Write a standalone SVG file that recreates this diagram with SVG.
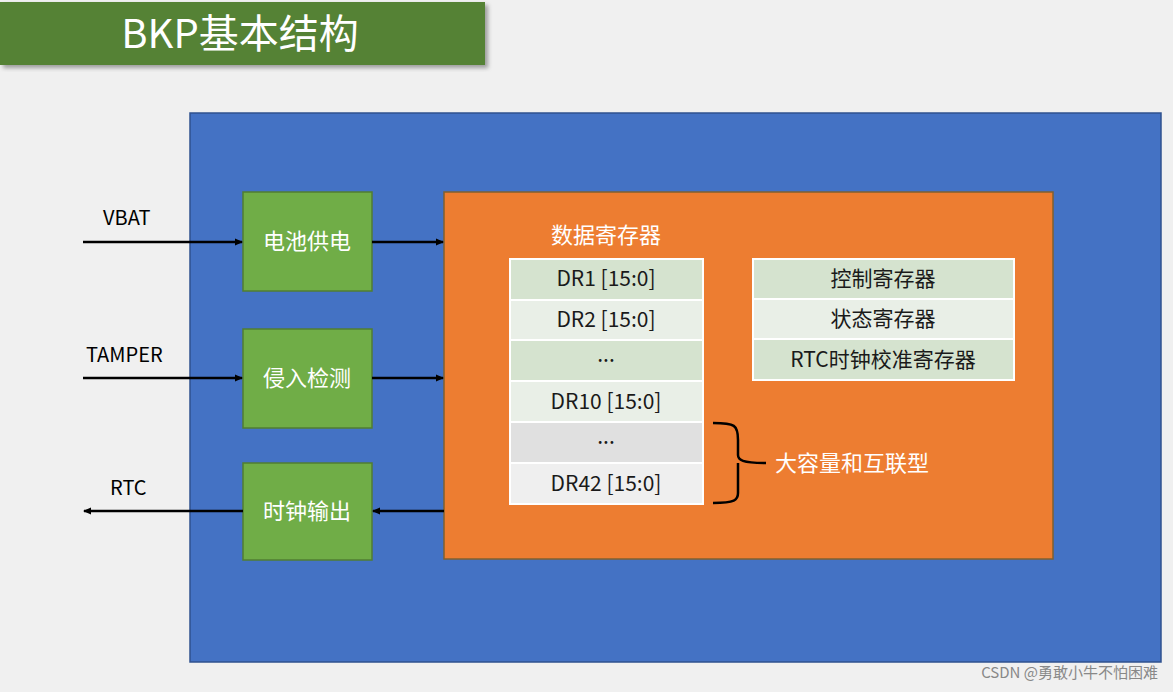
<svg xmlns="http://www.w3.org/2000/svg" width="1173" height="692" viewBox="0 0 1173 692">
<defs>
<marker id="ah" markerWidth="8" markerHeight="8" refX="7" refY="4" orient="auto" markerUnits="userSpaceOnUse"><path d="M0,0.5 L8,4 L0,7.5 Z" fill="#000"/></marker>
<filter id="sh"><feDropShadow dx="3" dy="3" stdDeviation="2" flood-color="#000" flood-opacity="0.35"/></filter>
</defs>
<style>
text{font-family:"Noto Sans CJK SC","Liberation Sans",sans-serif}
.w{fill:#fff;font-size:22px}
.k{fill:#1a1a1a;font-size:21px}
.g{fill:#70ad47;stroke:#507e32;stroke-width:1.5}
.c{stroke:#000;stroke-width:2.5;fill:none}
.cell{stroke:#fff;stroke-width:2}
</style>
<rect width="1173" height="692" fill="#f0f0f0"/>
<g id="title"><rect x="0" y="2" width="485" height="63" fill="#548235" filter="url(#sh)"/><text x="240" y="48" text-anchor="middle" fill="#fff" font-size="40">BKP基本结构</text></g>
<g id="outer"><rect x="190" y="113" width="971" height="549" fill="#4472c4" stroke="#2f528f" stroke-width="1.5"/></g>
<g id="bkp"><rect x="444" y="192" width="609" height="367" fill="#ed7d31" stroke="#7f6030" stroke-width="1.5"/><text x="606" y="243" text-anchor="middle" class="w">数据寄存器</text></g>
<g id="n1"><rect class="g" x="243" y="192" width="129" height="99"/><text x="307" y="249" text-anchor="middle" class="w">电池供电</text></g>
<g id="n2"><rect class="g" x="243" y="329" width="129" height="99"/><text x="307" y="386" text-anchor="middle" class="w">侵入检测</text></g>
<g id="n3"><rect class="g" x="243" y="463" width="129" height="97"/><text x="307" y="519" text-anchor="middle" class="w">时钟输出</text></g>
<g id="dr">
<rect class="cell" x="510" y="259" width="193" height="41" fill="#d5e3cf"/><text x="606" y="286" text-anchor="middle" class="k">DR1 [15:0]</text>
<rect class="cell" x="510" y="300" width="193" height="40" fill="#e9efe7"/><text x="606" y="327" text-anchor="middle" class="k">DR2 [15:0]</text>
<rect class="cell" x="510" y="340" width="193" height="41" fill="#d5e3cf"/><text x="606" y="362" text-anchor="middle" class="k">...</text>
<rect class="cell" x="510" y="381" width="193" height="41" fill="#e9efe7"/><text x="606" y="409" text-anchor="middle" class="k">DR10 [15:0]</text>
<rect class="cell" x="510" y="422" width="193" height="41" fill="#e0e0e0"/><text x="606" y="444" text-anchor="middle" class="k">...</text>
<rect class="cell" x="510" y="463" width="193" height="41" fill="#efefef"/><text x="606" y="491" text-anchor="middle" class="k">DR42 [15:0]</text>
</g>
<g id="ctl">
<rect class="cell" x="753" y="259" width="261" height="40" fill="#d5e3cf"/><text x="883" y="286" text-anchor="middle" class="k">控制寄存器</text>
<rect class="cell" x="753" y="299" width="261" height="40" fill="#e9efe7"/><text x="883" y="326" text-anchor="middle" class="k">状态寄存器</text>
<rect class="cell" x="753" y="339" width="261" height="41" fill="#d5e3cf"/><text x="883" y="367" text-anchor="middle" class="k">RTC时钟校准寄存器</text>
</g>
<g id="brace"><path d="M713,423 C735,423 738,425 738,440 L738,455 C738,460 742,463 766,463 M738,463 C738,466 738,470 738,485 L738,493 C738,500 735,503 713,503 M738,463 C742,463" class="c" stroke-width="2"/><text x="775" y="471" class="w">大容量和互联型</text></g>
<g id="connectors">
<line class="c" x1="83" y1="242" x2="242" y2="242" marker-end="url(#ah)"/>
<line class="c" x1="83" y1="378" x2="242" y2="378" marker-end="url(#ah)"/>
<line class="c" x1="243" y1="511" x2="84" y2="511" marker-end="url(#ah)"/>
<line class="c" x1="372" y1="242" x2="443" y2="242" marker-end="url(#ah)"/>
<line class="c" x1="372" y1="378" x2="443" y2="378" marker-end="url(#ah)"/>
<line class="c" x1="444" y1="511" x2="373" y2="511" marker-end="url(#ah)"/>
<text x="103" y="225" fill="#000" font-size="20">VBAT</text>
<text x="86" y="362" fill="#000" font-size="20">TAMPER</text>
<text x="110" y="495" fill="#000" font-size="20">RTC</text>
</g>
<text x="1158" y="678" text-anchor="end" fill="#888" font-size="15">CSDN @勇敢小牛不怕困难</text>
</svg>
